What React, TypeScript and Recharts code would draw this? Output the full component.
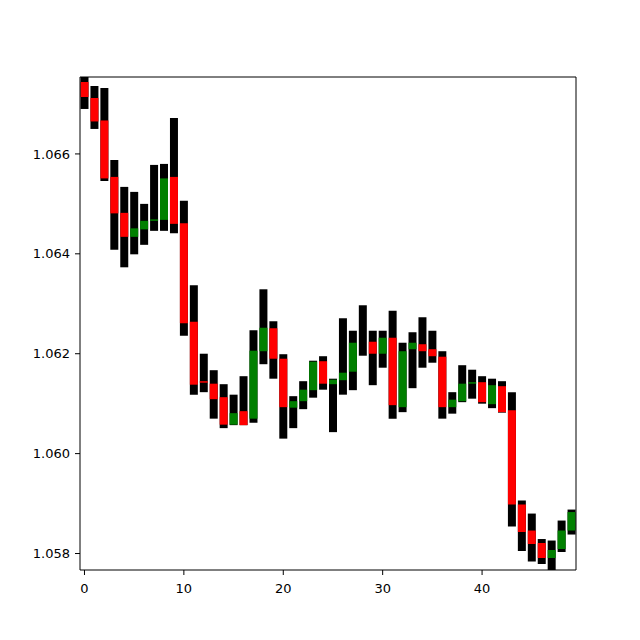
import { ComposedChart, Bar, XAxis, YAxis, Cell, ReferenceLine } from 'recharts';

const index = [
  0, 1, 2, 3, 4, 5, 6, 7, 8, 9, 10, 11, 12, 13, 14, 15, 16, 17, 18, 19, 20, 21, 22, 23, 24,
  25, 26, 27, 28, 29, 30, 31, 32, 33, 34, 35, 36, 37, 38, 39, 40, 41, 42, 43, 44, 45, 46, 47, 48, 49,
];

const opens = [
  1.06744, 1.06712, 1.06667, 1.06554, 1.06482, 1.06434, 1.06449, 1.06466, 1.06468, 1.06554,
  1.06461, 1.06264, 1.06145, 1.0614, 1.06113, 1.06058, 1.06085, 1.0607, 1.06205, 1.06251,
  1.0619, 1.06092, 1.06105, 1.06127, 1.06185, 1.06139, 1.06147, 1.06164, 1.0624, 1.06224,
  1.062, 1.06232, 1.06093, 1.06209, 1.06219, 1.06209, 1.06194, 1.06093, 1.06105, 1.0614,
  1.06143, 1.06099, 1.06135, 1.06087, 1.05898, 1.05846, 1.05821, 1.05791, 1.05809, 1.05846,
];

const closes = [
  1.06714, 1.06665, 1.06551, 1.06481, 1.06434, 1.06451, 1.06466, 1.06469, 1.06551, 1.0646,
  1.06261, 1.06138, 1.06142, 1.06109, 1.06058, 1.06081, 1.06057, 1.06206, 1.06252, 1.0619,
  1.06093, 1.06105, 1.06128, 1.06184, 1.0614, 1.06148, 1.06162, 1.06222, 1.0624, 1.062,
  1.06232, 1.06097, 1.06205, 1.06222, 1.06205, 1.06195, 1.06093, 1.06108, 1.0614, 1.06143,
  1.06103, 1.06137, 1.06083, 1.05898, 1.05843, 1.05819, 1.05791, 1.05807, 1.05846, 1.05883,
];

const highs = [
  1.06754, 1.06736, 1.06732, 1.06588, 1.06534, 1.06524, 1.065, 1.06578, 1.0658, 1.06672,
  1.06506, 1.06337, 1.062, 1.06167, 1.06139, 1.06118, 1.06155, 1.06247, 1.06329, 1.06265,
  1.06199, 1.06115, 1.06145, 1.06186, 1.06195, 1.0615, 1.06271, 1.06246, 1.06297, 1.06246,
  1.06246, 1.06286, 1.06222, 1.06243, 1.06273, 1.06246, 1.06205, 1.06123, 1.06177, 1.06168,
  1.06155, 1.0615, 1.06145, 1.06123, 1.05906, 1.0588, 1.05829, 1.05826, 1.05866, 1.05888,
];

const lows = [
  1.0669, 1.0665, 1.06546, 1.06408, 1.06373, 1.06399, 1.06418, 1.06446, 1.06446, 1.06441,
  1.06236, 1.06118, 1.06123, 1.0607, 1.06051, 1.06057, 1.06057, 1.06062, 1.06179, 1.0615,
  1.0603, 1.06051, 1.06089, 1.06112, 1.06128, 1.06043, 1.06118, 1.06127, 1.06196, 1.06137,
  1.06172, 1.0607, 1.06083, 1.06131, 1.06172, 1.06182, 1.0607, 1.0608, 1.06103, 1.0611,
  1.061, 1.06091, 1.06082, 1.05854, 1.05805, 1.05784, 1.05779, 1.05767, 1.05803, 1.05838,
];

const xTicks = [0, 10, 20, 30, 40];
const yTicks = [1.058, 1.06, 1.062, 1.064, 1.066];

const X_DOMAIN: [number, number] = [-0.45, 49.45];
const Y_DOMAIN: [number, number] = [1.05767, 1.06754];

const UP = '#008000';
const DOWN = '#ff0000';

const rows = index.map((x, i) => ({
  x,
  range: [lows[i], highs[i]],
  body: [Math.min(opens[i], closes[i]), Math.max(opens[i], closes[i])],
  up: closes[i] >= opens[i],
}));

const tickStyle = { fontFamily: 'DejaVu Sans', fontSize: 13, fill: '#000' };

export default function App() {
  return (
    <ComposedChart
      width={632}
      height={632}
      data={rows}
      margin={{ top: 69, right: 64, bottom: 40, left: 0 }}
      style={{ background: '#fff' }}
    >
      <XAxis
        xAxisId="wick"
        dataKey="x"
        type="number"
        domain={X_DOMAIN}
        ticks={xTicks}
        allowDataOverflow
        height={30}
        stroke="#000"
        tick={tickStyle}
        tickSize={5}
        tickMargin={9}
      />
      <XAxis
        xAxisId="body"
        dataKey="x"
        type="number"
        domain={X_DOMAIN}
        allowDataOverflow
        height={0}
        hide
      />
      <YAxis
        type="number"
        domain={Y_DOMAIN}
        ticks={yTicks}
        allowDataOverflow
        width={72}
        stroke="#000"
        tick={tickStyle}
        tickSize={5}
        tickMargin={5}
        tickFormatter={(v: number) => v.toFixed(3)}
      />
      <Bar xAxisId="wick" dataKey="range" fill="#000" barSize={8} isAnimationActive={false} />
      <Bar xAxisId="body" dataKey="body" barSize={8} isAnimationActive={false}>
        {rows.map((r) => (
          <Cell key={r.x} fill={r.up ? UP : DOWN} />
        ))}
      </Bar>
      <ReferenceLine xAxisId="wick" y={Y_DOMAIN[1]} stroke="#000" strokeWidth={1} />
      <ReferenceLine xAxisId="wick" x={X_DOMAIN[1]} stroke="#000" strokeWidth={1} />
    </ComposedChart>
  );
}
